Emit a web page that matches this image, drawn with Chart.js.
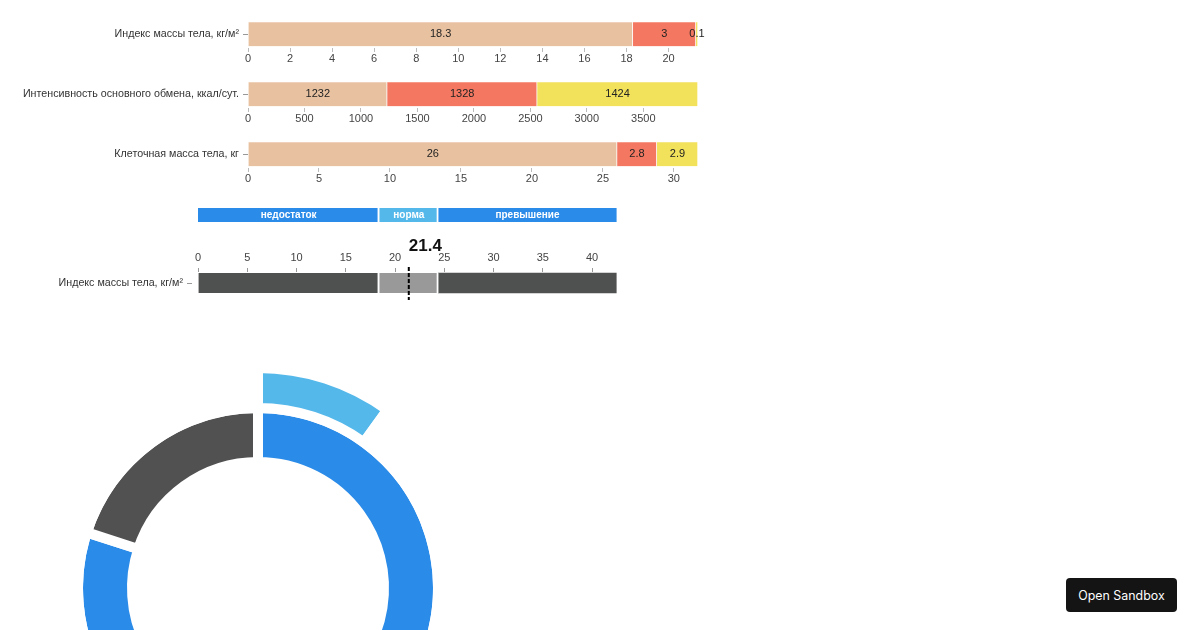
<!DOCTYPE html>
<html lang="ru">
<head>
<meta charset="utf-8">
<title>Состав тела</title>
<script src="https://cdn.jsdelivr.net/npm/chart.js@4.4.1/dist/chart.umd.min.js"></script>
<style>
html, body { margin:0; padding:0; width:1200px; height:630px; overflow:hidden; background:#fff; }
canvas { position:absolute; }
#sandbox {
    position:absolute; left:1066px; top:578px; width:111px; height:34px;
    background:#141414; color:#fff; border-radius:4px;
    font: 12.4px Inter, "Liberation Sans", Arial, sans-serif;
    display:flex; align-items:center; justify-content:center;
}
</style>
</head>
<body>
<canvas id="bmiBar" width="720" height="60" style="left:0;top:10px"></canvas>
<canvas id="bmrBar" width="720" height="60" style="left:0;top:70px"></canvas>
<canvas id="bcmBar" width="720" height="60" style="left:0;top:130px"></canvas>
<canvas id="zoneBand" width="640" height="30" style="left:0;top:200px"></canvas>
<canvas id="zoneScale" width="640" height="85" style="left:0;top:225px"></canvas>
<canvas id="ring" width="450" height="450" style="left:33px;top:363px"></canvas>
<div id="sandbox">Open Sandbox</div>
<script>
// данные
const bmiLabel = "Индекс массы тела, кг/м²"
const bmiParts = [18.3, 3, 0.1]
const bmrLabel = "Интенсивность основного обмена, ккал/сут."
const bmrParts = [1232, 1328, 1424]
const bcmLabel = "Клеточная масса тела, кг"
const bcmParts = [26, 2.8, 2.9]

const zoneNames = ["недостаток", "норма", "превышение"]
const zoneWidths = [18.4, 6, 18.1]
const bmiValue = 21.4

const outerRing = [10, 90]
const innerRing = [80, 20]

// цвета
const partColors = ["#E8C2A0", "#F47861", "#F2E15B"]
const zoneColors = ["#2B8BE8", "#55B8EA", "#2B8BE8"]
const scaleColors = ["#4F5050", "#999999", "#4F5050"]

const FONT = '"Liberation Sans", Arial, sans-serif'
Chart.defaults.font.family = FONT
Chart.defaults.animation = false
Chart.defaults.events = []

const sum = arr => arr.reduce((a, v) => a + v, 0)
const plain = v => String(v)

function segmentLabels(font, color, textOf){
    return {
        id: "segmentLabels",
        afterDatasetsDraw(chart){
            const ctx = chart.ctx
            ctx.save()
            ctx.font = font
            ctx.fillStyle = color
            ctx.textAlign = "center"
            ctx.textBaseline = "middle"
            chart.data.datasets.forEach((ds, i)=>{
                chart.getDatasetMeta(i).data.forEach((bar, j)=>{
                    ctx.fillText(textOf(ds, i, j), (bar.x + bar.base) / 2, bar.y)
                })
            })
            ctx.restore()
        }
    }
}

// step = undefined -> шаг подбирает сама библиотека
function makeStack(id, label, parts, step){
    new Chart(document.getElementById(id), {
        type: "bar",
        data: {
            labels: [label],
            datasets: parts.map((v, i)=>({
                data: [v],
                backgroundColor: partColors[i],
                borderColor: "rgba(255,255,255,0.85)",
                borderWidth: {right: 1},
                barThickness: 24
            }))
        },
        options: {
            indexAxis: "y",
            responsive: false,
            layout: {padding: {left: 0, top: 8, right: 22, bottom: 2}},
            plugins: {legend: {display: false}, tooltip: {enabled: false}},
            scales: {
                x: {
                    stacked: true,
                    min: 0,
                    max: sum(parts),
                    border: {display: false},
                    grid: {drawOnChartArea: false, tickLength: 4, color: "#bbb"},
                    ticks: {stepSize: step, includeBounds: false, padding: 0, color: "#444", font: {size: 11}, callback: plain},
                    afterFit(s){ s.height = 20 }
                },
                y: {
                    stacked: true,
                    border: {display: false},
                    grid: {offset: false, drawOnChartArea: false, tickLength: 5, color: "#999"},
                    ticks: {padding: 4, color: "#333", font: {size: 10.7}},
                    afterFit(s){ s.width = 248 }
                }
            }
        },
        plugins: [segmentLabels("11px " + FONT, "#222", (ds, i, j)=>String(ds.data[j]))]
    })
}

makeStack("bmiBar", bmiLabel, bmiParts, 2)
makeStack("bmrBar", bmrLabel, bmrParts, undefined)
makeStack("bcmBar", bcmLabel, bcmParts, 5)

// полоса с зонами
new Chart(document.getElementById("zoneBand"), {
    type: "bar",
    data: {
        labels: [""],
        datasets: zoneWidths.map((v, i)=>({
            data: [v],
            backgroundColor: zoneColors[i],
            borderColor: "#fff",
            borderWidth: {right: i < zoneWidths.length - 1 ? 2 : 0},
            barThickness: 14
        }))
    },
    options: {
        indexAxis: "y",
        responsive: false,
        layout: {padding: {left: 198, top: 8, right: 640 - 198 - 42.5 * 9.85, bottom: 8}},
        plugins: {legend: {display: false}, tooltip: {enabled: false}},
        scales: {
            x: {stacked: true, display: false, min: 0, max: sum(zoneWidths)},
            y: {stacked: true, display: false}
        }
    },
    plugins: [segmentLabels("bold 10px " + FONT, "#fff", (ds, i)=>zoneNames[i])]
})

// шкала ИМТ
const bmiMarker = {
    id: "bmiMarker",
    afterDatasetsDraw(chart){
        const x = chart.scales.x.getPixelForValue(bmiValue)
        const area = chart.chartArea
        const ctx = chart.ctx
        ctx.save()
        ctx.strokeStyle = "#000"
        ctx.lineWidth = 2
        ctx.setLineDash([4, 2])
        ctx.beginPath()
        ctx.moveTo(x, area.top - 5)
        ctx.lineTo(x, area.bottom + 6)
        ctx.stroke()
        ctx.setLineDash([])
        ctx.font = "bold 17px " + FONT
        ctx.fillStyle = "#111"
        ctx.textAlign = "left"
        ctx.textBaseline = "middle"
        ctx.fillText(String(bmiValue), x, area.top - 26)
        ctx.restore()
    }
}

new Chart(document.getElementById("zoneScale"), {
    type: "bar",
    data: {
        labels: [bmiLabel],
        datasets: zoneWidths.map((v, i)=>({
            data: [v],
            backgroundColor: scaleColors[i],
            borderColor: "#fff",
            borderWidth: {right: i < zoneWidths.length - 1 ? 2 : 0},
            barThickness: 20
        }))
    },
    options: {
        indexAxis: "y",
        responsive: false,
        layout: {padding: {left: 0, top: 27, right: 640 - 198 - 42.5 * 9.85, bottom: 16}},
        plugins: {legend: {display: false}, tooltip: {enabled: false}},
        scales: {
            x: {
                position: "top",
                stacked: true,
                min: 0,
                max: sum(zoneWidths),
                border: {display: false},
                grid: {drawOnChartArea: false, tickLength: 4, color: "#999"},
                ticks: {stepSize: 5, includeBounds: false, padding: 3, color: "#444", font: {size: 11}, callback: plain},
                afterFit(s){ s.height = 20 }
            },
            y: {
                stacked: true,
                border: {display: false},
                grid: {offset: false, drawOnChartArea: false, tickLength: 11, tickBorderDash: [5, 20], color: "#999"},
                ticks: {padding: 4, color: "#333", font: {size: 10.7}},
                afterFit(s){ s.width = 198 }
            }
        }
    },
    plugins: [bmiMarker]
})

// кольцевая диаграмма
new Chart(document.getElementById("ring"), {
    type: "doughnut",
    data: {
        datasets: [
            {data: outerRing, backgroundColor: ["#55B8EA", "rgba(255,255,255,0)"], borderColor: "#fff", borderWidth: 10, weight: 40},
            {data: innerRing, backgroundColor: ["#2B8BE8", "#505150"], borderColor: "#fff", borderWidth: 10, weight: 54}
        ]
    },
    options: {
        responsive: false,
        cutout: 126,
        layout: {padding: 0},
        plugins: {legend: {display: false}, tooltip: {enabled: false}}
    }
})
</script>
</body>
</html>
